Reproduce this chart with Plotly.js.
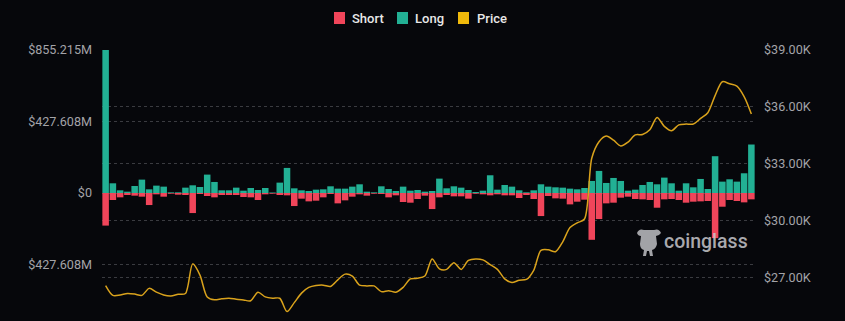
<!DOCTYPE html>
<html>
<head>
<meta charset="utf-8">
<script src="https://cdn.plot.ly/plotly-3.0.1.min.js"></script>
<style>
  html, body { margin: 0; padding: 0; background: #06070b; }
  #chart { width: 845px; height: 321px; }
</style>
</head>
<body>
<div id="chart"></div>
<script>
// Liquidations in millions of USD (per day), long and short (short as positive magnitudes)
const longLiq = [855.215, 58, 16, 8, 42, 80, 22, 44, 38, 4, 4, 32, 46, 36, 110, 66, 16, 16, 32, 14,
  30, 18, 30, 3, 62, 150, 28, 16, 12, 20, 22, 40, 26, 26, 38, 52, 8, 4, 40, 24,
  12, 38, 14, 18, 8, 12, 86, 28, 40, 32, 18, 6, 14, 106, 20, 48, 38, 16, 4, 16,
  52, 38, 34, 32, 26, 22, 30, 72, 132, 60, 90, 72, 14, 20, 48, 66, 52, 92, 58, 14,
  58, 34, 84, 24, 220, 68, 82, 68, 118, 290];
const shortLiq = [195, 42, 26, 12, 16, 22, 72, 8, 22, 4, 10, 12, 120, 6, 18, 26, 12, 12, 12, 24,
  26, 42, 8, 4, 12, 14, 78, 34, 50, 46, 26, 6, 62, 44, 22, 8, 16, 4, 6, 26,
  14, 54, 58, 36, 16, 96, 26, 12, 20, 20, 34, 4, 8, 14, 8, 14, 14, 30, 12, 36,
  138, 18, 32, 34, 68, 52, 40, 280, 156, 62, 58, 28, 22, 36, 38, 42, 88, 38, 36, 42,
  58, 52, 50, 48, 270, 82, 42, 48, 56, 38];
// BTC price in USD
const price = [26600, 26080, 26100, 26180, 26150, 26080, 26450, 26250, 26100, 26050,
  26140, 26180, 27740, 27150, 26000, 25850, 25900, 25930, 25880, 25840,
  25800, 26250, 26000, 25930, 25930, 25230, 25700, 26200, 26500, 26600,
  26620, 26550, 26900, 27200, 27100, 26620, 26580, 26580, 26280, 26330,
  26250, 26500, 26950, 26980, 27100, 28000, 27480, 27450, 27800, 27450,
  27920, 28000, 27950, 27700, 27450, 26950, 26760, 26880, 26920, 27400,
  28450, 28480, 28380, 28900, 29650, 29900, 30100, 33300, 34170, 34470,
  34250, 33950, 34150, 34530, 34550, 34800, 35450, 34980, 34750, 35060,
  35100, 35100, 35400, 35700, 36600, 37330, 37220, 37100, 36550, 35630];
// Axis tick labels
const leftTickVals = [855.215, 427.608, 0, -427.608];
const leftTickText = ['$855.215M', '$427.608M', '$0', '$427.608M'];
const rightTickVals = [39000, 36000, 33000, 30000, 27000];
const rightTickText = ['$39.00K', '$36.00K', '$33.00K', '$30.00K', '$27.00K'];
// Legend entries
const seriesNames = ['Short', 'Long', 'Price'];

const days = longLiq.map((_, i) => i);

const RED = '#f0455a';
const TEAL = '#22b094';
const GOLD = '#d9a21c';
const GOLD_LEG = '#f0b90b';
const GRID = '#3a3b40';
const TICK = '#a3a3a8';
const legendColors = [RED, TEAL, GOLD_LEG];

const traces = [
  { type: 'bar', name: seriesNames[0], x: days, y: shortLiq.map(v => -v), marker: { color: RED }, yaxis: 'y' },
  { type: 'bar', name: seriesNames[1], x: days, y: longLiq, marker: { color: TEAL }, yaxis: 'y' },
  { type: 'scatter', mode: 'lines', name: seriesNames[2], x: days, y: price, yaxis: 'y2',
    line: { color: GOLD, width: 1.5, shape: 'spline', smoothing: 0.8 } }
];

// margins in px
const L = 102, R = 90, T = 50, B = 3, W = 845, H = 321;
const pw = W - L - R, ph = H - T - B;
const px = x => (x - L) / pw;
const py = y => 1 - (y - T) / ph;
const logoPts = [
  ['M', 637, 233], ['Q', 639, 228, 644, 230], ['L', 654, 230], ['Q', 659, 228, 661, 233],
  ['Q', 659, 236, 656, 236], ['L', 657, 244], ['Q', 656, 249, 652, 250], ['L', 653, 256],
  ['L', 650, 256], ['L', 649, 251], ['L', 647, 251], ['L', 646, 256], ['L', 643, 256],
  ['L', 644, 250], ['Q', 640, 249, 640, 244], ['L', 641, 236], ['Q', 638, 236, 637, 233]
];
let logoPath = '';
logoPts.forEach(p => {
  logoPath += p[0];
  const c = [];
  for (let i = 1; i < p.length; i += 2) c.push(px(p[i]).toFixed(5) + ',' + py(p[i + 1]).toFixed(5));
  logoPath += c.join(' ') + ' ';
});
logoPath += 'Z';

// custom legend layout (pixel positions of swatches and labels)
const legSwatchX = [334, 397, 458];
const legTextX = [350, 413, 475];
const legY = 18;
const shapes = [
  { type: 'path', xref: 'paper', yref: 'paper', path: logoPath, fillcolor: 'rgba(190,190,195,0.85)',
    line: { width: 0 } }
];
const annotations = [
  { xref: 'paper', yref: 'paper', x: px(706), y: py(241), text: 'coinglass', showarrow: false,
    font: { family: 'Roboto, sans-serif', size: 19.5, color: 'rgba(200,200,205,0.85)', weight: 500 },
    xanchor: 'center', yanchor: 'middle' }
];
seriesNames.forEach((n, i) => {
  shapes.push({ type: 'rect', xref: 'paper', yref: 'paper', x0: px(legSwatchX[i]), x1: px(legSwatchX[i] + 11),
    y0: py(legY + 6), y1: py(legY - 6), fillcolor: legendColors[i], line: { width: 0 } });
  annotations.push({ xref: 'paper', yref: 'paper', x: px(legTextX[i]), y: py(legY), text: n, showarrow: false,
    xanchor: 'left', yanchor: 'middle', font: { family: 'Roboto, sans-serif', size: 13, color: '#e8e8e8', weight: 500 } });
});

const layout = {
  width: W, height: H,
  paper_bgcolor: '#06070b', plot_bgcolor: '#06070b',
  margin: { l: L, r: R, t: T, b: B, pad: 0 },
  barmode: 'relative', bargap: 0.1,
  font: { family: 'Roboto, sans-serif', color: TICK, size: 12 },
  showlegend: false,
  xaxis: { range: [-0.5, longLiq.length - 0.5], showticklabels: false, showgrid: false, zeroline: false,
    showline: false, ticks: '' },
  yaxis: { range: [-747.6, 855.215], tickvals: leftTickVals, ticktext: leftTickText, showgrid: true,
    gridcolor: GRID, griddash: '3px,3px', gridwidth: 1, zeroline: false, showline: false, ticks: '',
    ticklabelstandoff: 9, tickfont: { color: TICK, size: 12.6 } },
  yaxis2: { overlaying: 'y', side: 'right', range: [24890, 39000], tickvals: rightTickVals, ticktext: rightTickText,
    showgrid: true, gridcolor: GRID, griddash: '3px,3px', gridwidth: 1, zeroline: false, showline: false,
    ticks: '', ticklabelstandoff: 8, tickfont: { color: TICK, size: 12.6 } },
  annotations: annotations,
  shapes: shapes
};

Plotly.newPlot('chart', traces, layout, { displayModeBar: false, staticPlot: true });
</script>
</body>
</html>
